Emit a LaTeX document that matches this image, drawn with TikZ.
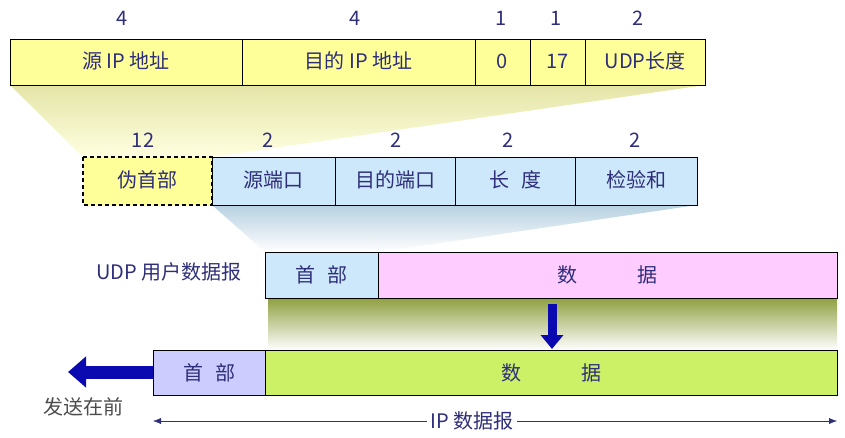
\documentclass[tikz,border=0pt]{standalone}
\usepackage{fontspec}
\setmainfont{Noto Sans CJK SC}
\usetikzlibrary{arrows.meta,shadings}
\definecolor{ink}{HTML}{2E2E7A}
\definecolor{yel}{HTML}{FFFF99}
\definecolor{blu}{HTML}{CCE8FA}
\definecolor{pnk}{HTML}{FFCCFF}
\definecolor{lav}{HTML}{CCCCFF}
\definecolor{grn}{HTML}{CCF066}
\definecolor{gsh}{HTML}{8FA040}
\definecolor{arr}{HTML}{0A0AB0}
\tikzset{x=1pt,y=-1pt,
 cell/.style={draw=black,line width=1pt},
 lbl/.style={text=ink,font=\fontsize{20}{22}\selectfont},
 num/.style={text=ink,font=\fontsize{20}{22}\selectfont}}
\begin{document}
\begin{tikzpicture}
\useasboundingbox (0,0) rectangle (845,437);
% shadows
\shade[top color=yel!85!black!70, bottom color=yel!30] (10,85) -- (705,85) -- (212,157) -- (83,157) -- cycle;
\shade[top color=blu!90!black, bottom color=white] (212,205) -- (697,205) -- (380,252) -- (265,252) -- cycle;
\shade[top color=gsh, bottom color=white] (268,298) rectangle (837,350);
% top row
\foreach \a/\b/\t/\n in {10/242/源 IP 地址/a1,242/475/目的 IP 地址/a2,475/530/0/a3,530/585/17/a4,585/705/UDP长度/a5}{
 \draw[cell,fill=yel] (\a,39) rectangle (\b,85);
 \node[lbl] (\n) at ({(\a+\b)/2},61) {\t};}
\foreach \x/\t/\n in {122/4/n1,355/4/n2,501/1/n3,556/1/n4,638/2/n5}
 \node[num] (\n) at (\x,18) {\t};
% second row
\draw[fill=yel,line width=1.3pt,dash pattern=on 4pt off 3pt] (83,157) rectangle (212,205);
\node[lbl] (p0) at (147,180) {伪首部};
\foreach \a/\b/\t/\n in {212/335/源端口/b1,335/455/目的端口/b2,455/575/长\hspace{0.6em}度/b3,575/697/检验和/b4}{
 \draw[cell,fill=blu] (\a,157) rectangle (\b,205);
 \node[lbl] (\n) at ({(\a+\b)/2},180) {\t};}
\foreach \x/\t/\n in {143/12/m0,268/2/m1,396/2/m2,508/2/m3,635/2/m4}
 \node[num] (\n) at (\x,140) {\t};
% third row
\node[lbl,anchor=east] (udp) at (245,272) {UDP 用户数据报};
\draw[cell,fill=blu] (265,252) rectangle (378,298);
\node[lbl] (h1) at (321,275) {首\hspace{0.6em}部};
\draw[cell,fill=pnk] (378,252) rectangle (837,298);
\node[lbl] (d1) at (607,275) {数\hspace{3em}据};
\coordinate (dt) at (552,304);
\coordinate (db) at (552,349);
\draw[arr,line width=9pt,-{Triangle[length=14pt,width=22pt]}] (dt) -- (db);
% fourth row
\draw[cell,fill=lav] (153,350) rectangle (265,395);
\node[lbl] (h2) at (209,373) {首\hspace{0.6em}部};
\draw[cell,fill=grn] (265,350) rectangle (837,395);
\node[lbl] (d2) at (551,373) {数\hspace{3em}据};
\coordinate (ls) at (153,372);
\coordinate (le) at (68,372);
\draw[arr,line width=13pt,-{Triangle[length=18pt,width=30pt]}] (ls) -- (le);
\node[text=black!70,font=\fontsize{20}{22}\selectfont] (fs) at (83,407) {发送在前};
\node[lbl,fill=white] (ip) at (472,421) {IP 数据报};
\coordinate (il) at (153,421);
\coordinate (ir) at (837,421);
\draw[ink,-{Latex[length=8pt]}] (ip) -- (il);
\draw[ink,-{Latex[length=8pt]}] (ip) -- (ir);
\end{tikzpicture}
\end{document}
